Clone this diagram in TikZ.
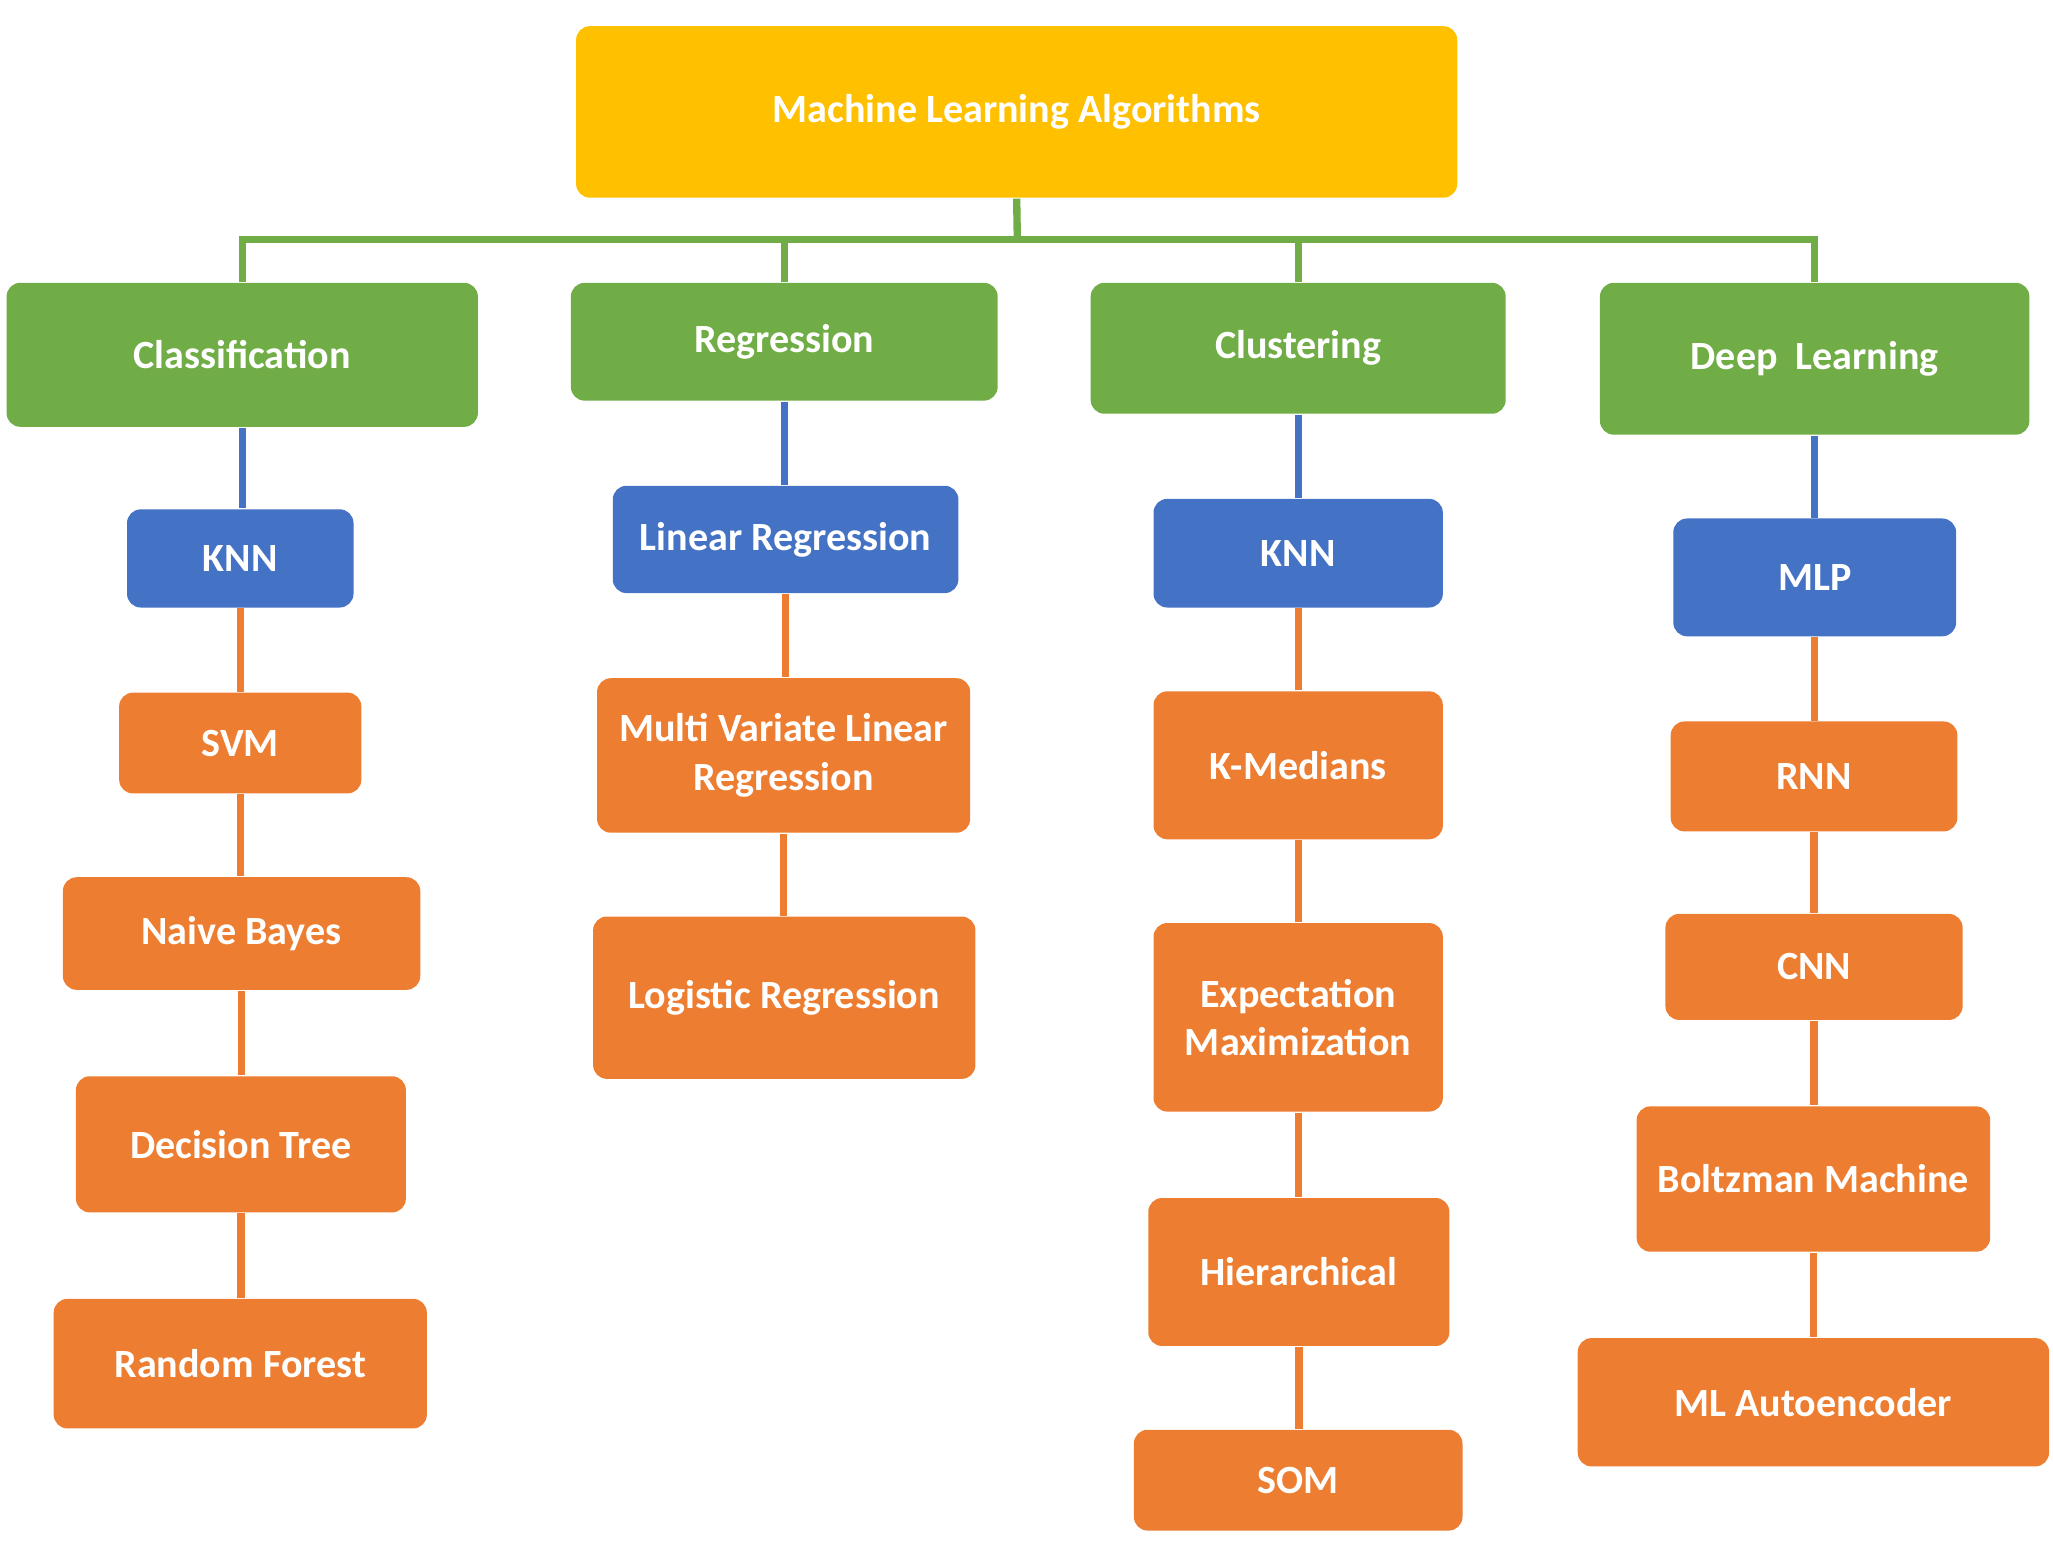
\documentclass[tikz,border=0pt]{standalone}
\usepackage{fontspec}
\setmainfont{Carlito}
\definecolor{yel}{HTML}{FFC000}
\definecolor{grn}{HTML}{70AD47}
\definecolor{blu}{HTML}{4472C4}
\definecolor{org}{HTML}{ED7D31}
\newcommand{\bx}[7]{\node[box,fill=#6,minimum width={(#4-#2)*0.01cm},minimum height={(#5-#3)*0.01cm}] (#1) at ({(#2+#4)/2},{(#3+#5)/2}) {#7};}
\begin{document}
\begin{tikzpicture}[x=0.01cm,y=-0.01cm,
 box/.style={rectangle,rounded corners=3pt,draw=none,text=white,inner sep=1pt,align=center,font=\fontsize{8.7}{10.5}\selectfont\bfseries},
 ln/.style={line width=1.6pt}]
\useasboundingbox (0,0) rectangle (1568,1197);
\bx{root}{440}{20}{1113}{151}{yel}{Machine Learning Algorithms}
\bx{cla}{5}{216}{365}{326}{grn}{Classification}
\bx{reg}{436}{216}{762}{306}{grn}{Regression}
\bx{clu}{833}{216}{1150}{316}{grn}{Clustering}
\bx{dl}{1222}{216}{1550}{332}{grn}{Deep\ \ Learning}
\bx{knn}{97}{389}{270}{464}{blu}{KNN}
\bx{lr}{468}{371}{732}{453}{blu}{Linear Regression}
\bx{knnb}{881}{381}{1102}{464}{blu}{KNN}
\bx{mlp}{1278}{396}{1494}{486}{blu}{MLP}
\bx{svm}{91}{529}{276}{606}{org}{SVM}
\bx{nb}{48}{670}{321}{756}{org}{Naive Bayes}
\bx{dt}{58}{822}{310}{926}{org}{Decision Tree}
\bx{rf}{41}{992}{326}{1091}{org}{Random Forest}
\bx{mv}{456}{518}{741}{636}{org}{Multi Variate Linear\\Regression}
\bx{lg}{453}{700}{745}{824}{org}{Logistic Regression}
\bx{km}{881}{528}{1102}{641}{org}{K-Medians}
\bx{em}{881}{705}{1102}{849}{org}{Expectation\\Maximization}
\bx{hi}{877}{915}{1107}{1028}{org}{Hierarchical}
\bx{som}{866}{1092}{1117}{1169}{org}{SOM}
\bx{rnn}{1276}{551}{1495}{635}{org}{RNN}
\bx{cnn}{1272}{698}{1499}{779}{org}{CNN}
\bx{bm}{1250}{845}{1520}{956}{org}{Boltzman Machine}
\bx{ae}{1205}{1022}{1565}{1120}{org}{ML Autoencoder}
\coordinate (bus) at (777,183);
\draw[ln,grn] (root.south) -- (bus);
\foreach \n in {cla,reg,clu,dl}{\draw[ln,grn] (bus) -| (\n.north);}
\foreach \a/\b in {cla/knn,reg/lr,clu/knnb,dl/mlp}{\draw[ln,blu] (\a.south) -- (\a.south|-\b.north);}
\foreach \a/\b in {knn/svm,svm/nb,nb/dt,dt/rf,lr/mv,mv/lg,knnb/km,km/em,em/hi,hi/som,mlp/rnn,rnn/cnn,cnn/bm,bm/ae}{\draw[ln,org] (\a.south) -- (\a.south|-\b.north);}
\end{tikzpicture}
\end{document}
